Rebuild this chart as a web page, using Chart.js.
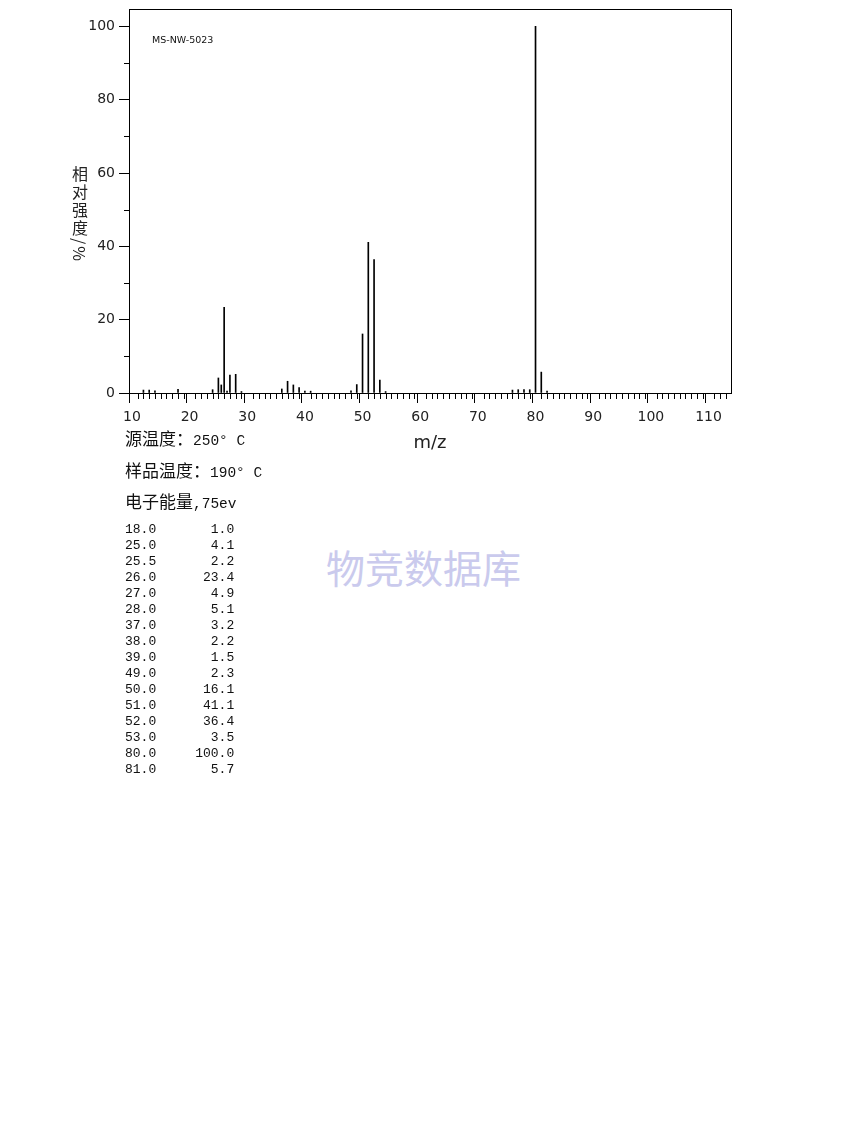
<!DOCTYPE html>
<html>
<head>
<meta charset="utf-8">
<script src="https://cdn.jsdelivr.net/npm/chart.js@4/dist/chart.umd.min.js"></script>
<style>
    body { margin: 0; background: #fff; width: 850px; height: 1134px; position: relative; overflow: hidden; }
    #wrap { position: absolute; left: 0; top: 0; width: 850px; height: 455px; }
    .ytitle { position: absolute; left: 72px; top: 166px; writing-mode: vertical-rl; font: 16px "Noto Sans CJK SC"; line-height: 1; letter-spacing: 2px; color: #222; }
    .cond { position: absolute; left: 125px; font: 17px "Noto Sans CJK SC"; line-height: 20px; color: #111; white-space: pre; }
    .cond span { font: 14.5px "Liberation Mono"; }
    #peaks { position: absolute; left: 125px; top: 522px; margin: 0; font: 13px "Liberation Mono"; line-height: 16px; color: #111; }
    .mark { position: absolute; left: 326px; top: 547px; font: 39px "Noto Sans CJK SC"; line-height: 1; color: #cacaed; }
</style>
</head>
<body>
<div id="wrap"><canvas id="msChart" width="850" height="455"></canvas></div>
<div class="ytitle">相对强度/%</div>
<div class="cond" style="top:428px">源温度：<span>250° C</span></div>
<div class="cond" style="top:460px">样品温度：<span>190° C</span></div>
<div class="cond" style="top:491px">电子能量<span>,75ev</span></div>
<pre id="peaks"></pre>
<div class="mark">物竞数据库</div>

<script>
// listed peaks (m/z, relative intensity %)
const mzValues = [18, 25, 25.5, 26, 27, 28, 37, 38, 39, 49, 50, 51, 52, 53, 80, 81];
const intensities = [1.0, 4.1, 2.2, 23.4, 4.9, 5.1, 3.2, 2.2, 1.5, 2.3, 16.1, 41.1, 36.4, 3.5, 100.0, 5.7];

// small unlisted peaks seen on the plot
const minorMz = [12, 13, 14, 24, 26.5, 29, 36, 40, 41, 48, 54, 76, 77, 78, 79, 82];
const minorIntensities = [0.8, 0.8, 0.6, 0.9, 0.5, 0.4, 1.1, 0.5, 0.5, 0.6, 0.4, 0.8, 0.9, 0.9, 0.9, 0.5];

const sampleId = 'MS-NW-5023';
const xMin = 10, xMax = 113.4;
const yMin = 0, yMax = 104.75;

fillPeakTable();

function fillPeakTable() {
    let rows = [];
    mzValues.forEach((mz, i) => {
        rows.push(mz.toFixed(1) + intensities[i].toFixed(1).padStart(10, ' '));
    });
    document.getElementById('peaks').textContent = rows.join('\n');
}

const frame = {
    id: 'frame',
    afterDraw(chart) {
        const ctx = chart.ctx;
        const a = chart.chartArea;
        const x = chart.scales.x, y = chart.scales.y;
        ctx.save();
        ctx.strokeStyle = '#000';
        ctx.lineWidth = 1;
        ctx.strokeRect(Math.round(a.left) + 0.5, Math.round(a.top) + 0.5,
            Math.round(a.right - a.left), Math.round(a.bottom - a.top));
        ctx.beginPath();
        x.ticks.forEach(t => {
            if (t.value % 10 !== 0) {
                const px = Math.round(x.getPixelForValue(t.value)) + 0.5;
                ctx.moveTo(px, a.bottom);
                ctx.lineTo(px, a.bottom + 6);
            }
        });
        y.ticks.forEach(t => {
            if (t.value % 20 !== 0) {
                const py = Math.round(y.getPixelForValue(t.value)) + 0.5;
                ctx.moveTo(a.left - 5, py);
                ctx.lineTo(a.left, py);
            }
        });
        ctx.stroke();
        ctx.fillStyle = '#111';
        ctx.font = '9.5px "DejaVu Sans"';
        ctx.textBaseline = 'middle';
        ctx.fillText(sampleId, a.left + 23, a.top + 32);
        ctx.restore();
    }
};

const points = mzValues.map((m, i) => ({x: m, y: intensities[i]}))
    .concat(minorMz.map((m, i) => ({x: m, y: minorIntensities[i]})));

const ctx = document.getElementById('msChart').getContext('2d');
const myChart = new Chart(ctx, {
    type: 'bar',
    plugins: [frame],
    data: {
        datasets: [
            {
                data: points,
                backgroundColor: '#000',
                borderWidth: 0,
                barThickness: 1,
            }
        ]
    },
    options: {
        responsive: false,
        animation: false,
        devicePixelRatio: 1,
        layout: {
            padding: {top: 9, right: 119, left: 0, bottom: 0}
        },
        plugins: {
            legend: {display: false},
            tooltip: {enabled: false}
        },
        scales: {
            x: {
                type: 'linear',
                min: xMin,
                max: xMax,
                afterFit: function (scale) {
                    scale.height = 62;
                    scale.paddingLeft = 0;
                    scale.paddingRight = 0;
                },
                grid: {
                    drawOnChartArea: false,
                    tickLength: 10,
                    tickColor: (c) => (c.tick && c.tick.value % 10 === 0) ? '#000' : 'rgba(0,0,0,0)'
                },
                border: {display: true, color: '#000'},
                ticks: {
                    stepSize: 1,
                    autoSkip: false,
                    includeBounds: false,
                    maxRotation: 0,
                    padding: 6,
                    color: '#222',
                    font: {family: 'DejaVu Sans', size: 14},
                    callback: (v) => v % 10 === 0 ? v : ''
                },
                title: {
                    display: true,
                    text: 'm/z',
                    color: '#222',
                    font: {family: 'DejaVu Sans', size: 18},
                    padding: {top: 0, bottom: 1}
                }
            },
            y: {
                min: yMin,
                max: yMax,
                afterFit: function (scale) {
                    scale.width = 129;
                    scale.paddingTop = 0;
                    scale.paddingBottom = 0;
                },
                grid: {
                    drawOnChartArea: false,
                    tickLength: 10,
                    tickColor: (c) => (c.tick && c.tick.value % 20 === 0) ? '#000' : 'rgba(0,0,0,0)'
                },
                border: {display: true, color: '#000'},
                ticks: {
                    stepSize: 10,
                    includeBounds: false,
                    padding: 4,
                    color: '#222',
                    font: {family: 'DejaVu Sans', size: 14},
                    callback: (v) => v % 20 === 0 ? v : ''
                }
            }
        }
    }
});
</script>
</body>
</html>
